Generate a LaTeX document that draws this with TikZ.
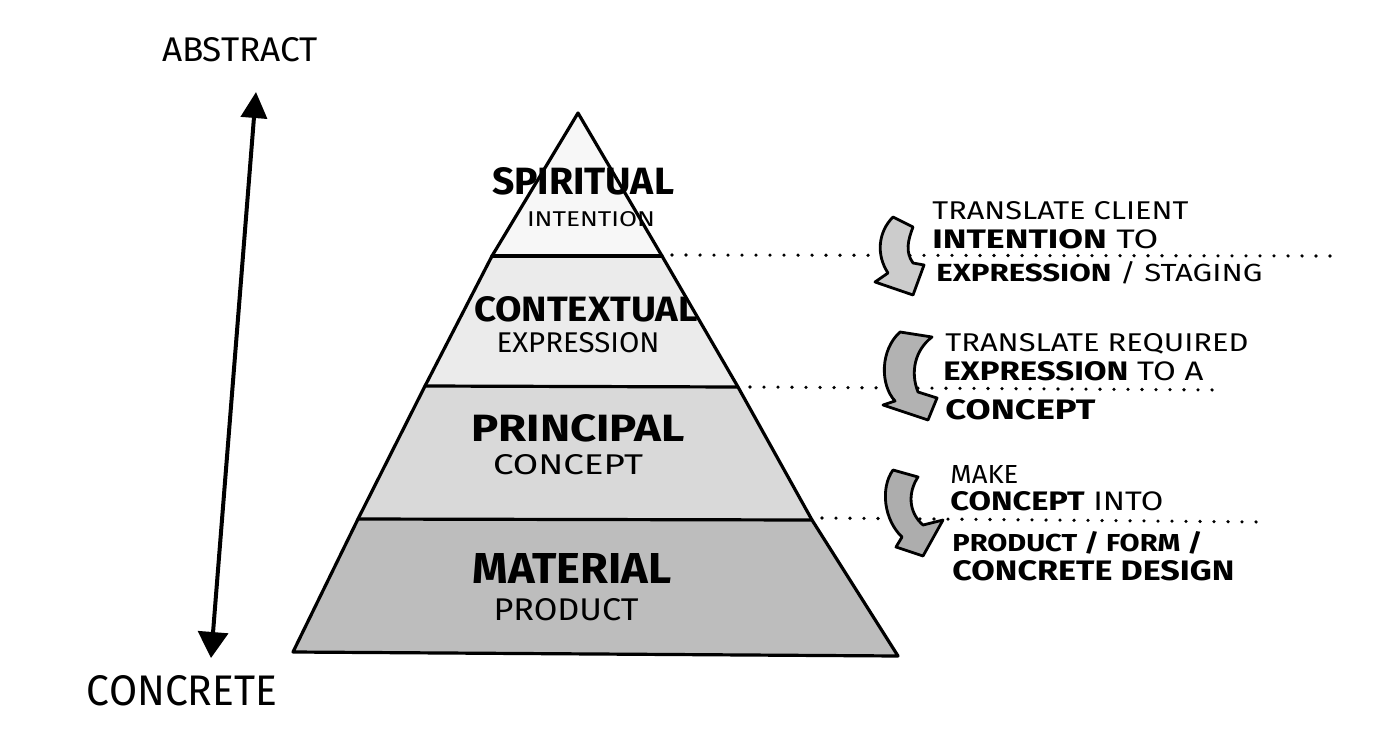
\documentclass[tikz,border=0pt]{standalone}
\usepackage{fontspec}
\setmainfont{Fira Sans}
\usetikzlibrary{arrows.meta}
\newlength\fitu
\setlength\fitu{0.5pt}
\newcommand\fitwh[3]{\resizebox{#1\fitu}{#2\fitu}{#3}}
\begin{document}
\begin{tikzpicture}[x=0.5pt,y=-0.5pt,
  lbl/.style={font=\bfseries\fontsize{17}{19}\selectfont, inner sep=0},
  sub/.style={font=\fontsize{12}{14}\selectfont, inner sep=0},
  note/.style={font=\fontsize{14}{15.5}\selectfont, anchor=west, inner sep=0},
  axislbl/.style={font=\fontsize{15}{17}\selectfont, inner sep=0},
  edge/.style={line width=1.6pt, line join=round, line cap=round},
  dots/.style={line width=1.8pt, line cap=round, dash pattern=on 0pt off 7pt},
  blockarrow/.style={draw=black, line width=1.4pt, line join=round}
]
\useasboundingbox[fill=white] (0,0) rectangle (1400,743);

% pyramid corners
\coordinate (apex) at (578,113);
\coordinate (l1) at (492,256); \coordinate (r1) at (662,256);
\coordinate (l2) at (425,386); \coordinate (r2) at (738,387);
\coordinate (l3) at (358,519); \coordinate (r3) at (812,520);
\coordinate (l4) at (293,652); \coordinate (r4) at (898,656);

% band fills
\fill[black!3] (apex) -- (r1) -- (l1) -- cycle;
\fill[black!8] (l1) -- (r1) -- (r2) -- (l2) -- cycle;
\fill[black!15] (l2) -- (r2) -- (r3) -- (l3) -- cycle;
\fill[black!26] (l3) -- (r3) -- (r4) -- (l4) -- cycle;

% outline and divisions
\draw[edge] (l4) -- (l3) -- (l2) -- (l1) -- (apex) -- (r1) -- (r2) -- (r3) -- (r4) -- cycle;
\draw[edge] (l1) -- (r1);
\draw[edge] (l2) -- (r2);
\draw[edge] (l3) -- (r3);

% level labels
\node[lbl] (spir) at (583,181) {\fitwh{182}{27}{SPIRITUAL}};
\node[sub] (inten) at (591,219) {\fitwh{128}{15}{INTENTION}};
\node[lbl] (cont) at (586,309) {\fitwh{224}{25}{CONTEXTUAL}};
\node[sub] (expr) at (578,343) {\fitwh{163}{20}{EXPRESSION}};
\node[lbl] (prin) at (578,428) {\fitwh{213}{27}{PRINCIPAL}};
\node[sub] (conc) at (568,465) {\fitwh{150}{20}{CONCEPT}};
\node[lbl] (mate) at (572,568) {\fitwh{199}{30}{MATERIAL}};
\node[sub] (prod) at (566,610) {\fitwh{145}{22}{PRODUCT}};

% axis
\coordinate (axtop) at (256,92);
\coordinate (axbot) at (211,658);
\draw[line width=2pt, {Triangle[length=13pt,width=13pt]}-{Triangle[length=13pt,width=15pt]}] (axtop) -- (axbot);
\node[axislbl] (abs) at (240,50) {\fitwh{156}{24}{ABSTRACT}};
\node[axislbl] (concr) at (182,691) {\fitwh{190}{30}{CONCRETE}};

% dotted guide lines
\coordinate (d1s) at (672,255); \coordinate (d1e) at (1330,256);
\coordinate (d2s) at (750,387); \coordinate (d2e) at (1220,390);
\coordinate (d3s) at (822,518); \coordinate (d3e) at (1262,522);
\draw[dots] (d1s) -- (d1e);
\draw[dots] (d2s) -- (d2e);
\draw[dots] (d3s) -- (d3e);

% curved block arrows
\filldraw[blockarrow, fill=black!20]
  (893,217) -- (913,227) .. controls (908,240) and (905,252) .. (913,263)
  -- (924,265) -- (913,295) -- (875,282) -- (888,273)
  .. controls (876,255) and (878,232) .. (893,217) -- cycle;
\filldraw[blockarrow, fill=black!30]
  (900,332) -- (932,337) .. controls (915,350) and (910,372) .. (918,392)
  -- (937,398) -- (928,420) -- (883,405) -- (895,401)
  .. controls (880,385) and (880,350) .. (900,332) -- cycle;
\filldraw[blockarrow, fill=black!32]
  (893,470) -- (918,477) .. controls (908,492) and (908,512) .. (923,525)
  -- (943,520) -- (923,556) -- (896,547) -- (902,537)
  .. controls (884,520) and (880,488) .. (893,470) -- cycle;

% right notes
\node[note] (a1) at (932,211) {\fitwh{256}{18}{TRANSLATE CLIENT}};
\node[note] (a2) at (932,239) {\fitwh{226}{19}{\textbf{INTENTION} TO}};
\node[note] (a3) at (936,273) {\fitwh{326}{20}{\textbf{EXPRESSION} / STAGING}};
\node[note] (b1) at (945,344) {\fitwh{303}{18}{TRANSLATE REQUIRED}};
\node[note] (b2) at (943,371) {\fitwh{260}{19}{\textbf{EXPRESSION} TO A}};
\node[note] (b3) at (945,410) {\fitwh{150}{20}{\textbf{CONCEPT}}};
\node[note] (c1) at (950,474) {\fitwh{68}{18}{MAKE}};
\node[note] (c2) at (950,501) {\fitwh{213}{19}{\textbf{CONCEPT} INTO}};
\node[note] (c3) at (952,543) {\fitwh{250}{20}{\textbf{PRODUCT / FORM /}}};
\node[note] (c4) at (952,571) {\fitwh{282}{20}{\textbf{CONCRETE DESIGN}}};
\end{tikzpicture}
\end{document}
